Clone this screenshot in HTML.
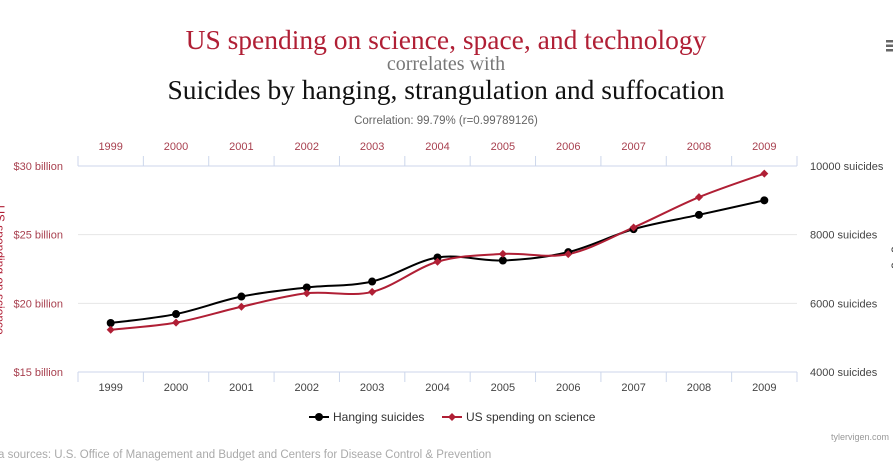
<!DOCTYPE html>
<html><head><meta charset="utf-8"><style>
body{margin:0;background:#fff;width:893px;height:469px;overflow:hidden;font-family:"Liberation Sans",sans-serif}
</style></head><body>
<svg width="893" height="469" style="position:absolute;left:0;top:0">
<text x="446" y="49" text-anchor="middle" font-family="Liberation Serif,serif" font-size="27.5" fill="#b01f35">US spending on science, space, and technology</text>
<text x="446" y="70" text-anchor="middle" font-family="Liberation Serif,serif" font-size="20" fill="#777">correlates with</text>
<text x="446" y="99" text-anchor="middle" font-family="Liberation Serif,serif" font-size="27.5" fill="#111">Suicides by hanging, strangulation and suffocation</text>
<text x="446" y="124" text-anchor="middle" font-size="11.5" fill="#666">Correlation: 99.79% (r=0.99789126)</text>
<g fill="#666"><rect x="886" y="40" width="7" height="2.5"/><rect x="886" y="44.5" width="7" height="2.5"/><rect x="886" y="49" width="7" height="2.5"/></g>
<text transform="translate(-4,270) rotate(90)" text-anchor="middle" font-size="12" fill="#b01f35">US spending on science</text>
<text transform="translate(894,270) rotate(90)" text-anchor="middle" font-size="12" fill="#333">Hanging suicides</text>
<g id="axes"></g>
<g id="series"></g>
<g>
<g><line x1="309" y1="417" x2="329" y2="417" stroke="#000" stroke-width="2"/><circle cx="319" cy="417" r="4" fill="#000"/><text x="333" y="421" font-size="12" fill="#333">Hanging suicides</text></g>
<g><line x1="442" y1="417" x2="462" y2="417" stroke="#b01f35" stroke-width="2"/><path d="M452 413 L456 417 L452 421 L448 417Z" fill="#b01f35"/><text x="466" y="421" font-size="12" fill="#333">US spending on science</text></g>
</g>
<text x="889" y="440" text-anchor="end" font-size="9" fill="#999">tylervigen.com</text>
<text x="-2" y="458" font-size="11.5" fill="#aaa">a sources: U.S. Office of Management and Budget and Centers for Disease Control &amp; Prevention</text>
</svg>
<script>
const years=[1999,2000,2001,2002,2003,2004,2005,2006,2007,2008,2009];
const suicides=[5427,5688,6198,6462,6635,7336,7248,7491,8161,8578,9000];
const spending=[18.079,18.594,19.753,20.734,20.831,23.029,23.597,23.584,25.525,27.731,29.449];
const leftTicks=[15,20,25,30];
const rightTicks=[4000,6000,8000,10000];
const NS="http://www.w3.org/2000/svg";
const x0=78,x1=797,yTop=166,yBot=372;
const step=(x1-x0)/years.length;
function xs(i){return x0+step*(i+0.5);}
function yl(v){return yBot-(v-15)/15*(yBot-yTop);}
function yr(v){return yBot-(v-4000)/6000*(yBot-yTop);}
function mk(t,a,p){const e=document.createElementNS(NS,t);for(const k in a)e.setAttribute(k,a[k]);(p||document.getElementById('axes')).appendChild(e);return e;}
leftTicks.forEach(v=>{
 const y=yl(v);
 const g=mk('line',{x1:x0,x2:x1,y1:y,y2:y,stroke:(v==15||v==30)?'#ccd6eb':'#e6e6e6','stroke-width':1});
 
 
 const t=mk('text',{x:63,y:y+4,'text-anchor':'end','font-size':11,fill:'#a8404f'});t.textContent='$'+v+' billion';
 
 
});
rightTicks.forEach(v=>{
 const t=mk('text',{x:810,y:yr(v)+4,'font-size':11,fill:'#444'});t.textContent=v+' suicides';
 
 
});
for(let i=0;i<=years.length;i++){
 const x=x0+step*i;
 mk('line',{x1:x,x2:x,y1:yBot,y2:yBot+10,stroke:'#ccd6eb'});
 mk('line',{x1:x,x2:x,y1:yTop-10,y2:yTop,stroke:'#ccd6eb'});
}
years.forEach((yv,i)=>{
 const b=mk('text',{x:xs(i),y:yBot+19,'text-anchor':'middle','font-size':11,fill:'#444'});b.textContent=yv;
 
 
 const t=mk('text',{x:xs(i),y:yTop-16,'text-anchor':'middle','font-size':11,fill:'#a8404f'});t.textContent=yv;
 
 
});
function spline(pts){
 let d='M'+pts[0][0]+' '+pts[0][1];
 for(let i=0;i<pts.length-1;i++){
  const p0=pts[i-1]||pts[i],p1=pts[i],p2=pts[i+1],p3=pts[i+2]||p2;
  const c1=[p1[0]+(p2[0]-p0[0])/6,p1[1]+(p2[1]-p0[1])/6];
  const c2=[p2[0]-(p3[0]-p1[0])/6,p2[1]-(p3[1]-p1[1])/6];
  d+=` C${c1[0]} ${c1[1]} ${c2[0]} ${c2[1]} ${p2[0]} ${p2[1]}`;
 }
 return d;
}
const sg=document.getElementById('series');
const sp=spending.map((v,i)=>[xs(i),yl(v)]);
const su=suicides.map((v,i)=>[xs(i),yr(v)]);
const l1=mk('path',{d:spline(su),fill:'none',stroke:'#000','stroke-width':2},sg);


const l2=mk('path',{d:spline(sp),fill:'none',stroke:'#b01f35','stroke-width':2},sg);


su.forEach(p=>{const c=mk('circle',{cx:p[0],cy:p[1],r:4,fill:'#000'},sg);
 
 });
sp.forEach(p=>{const c=mk('path',{d:`M${p[0]} ${p[1]-4}L${p[0]+4} ${p[1]}L${p[0]} ${p[1]+4}L${p[0]-4} ${p[1]}Z`,fill:'#b01f35'},sg);
 
 });
</script>
</body></html>
